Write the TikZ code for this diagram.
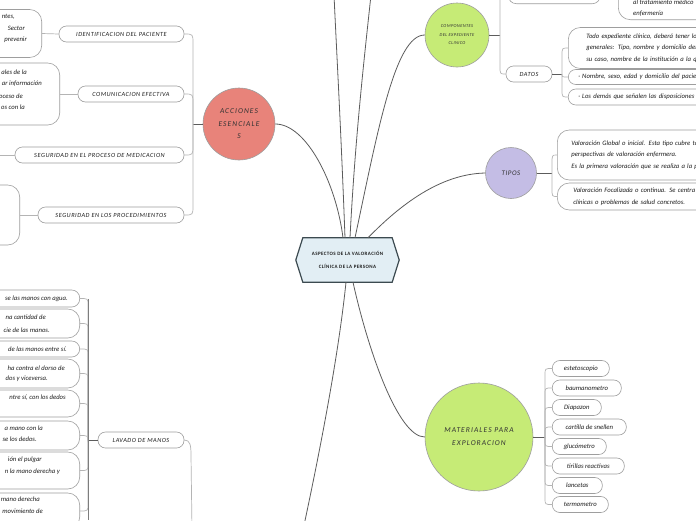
\documentclass[tikz,border=0pt]{standalone}
\usepackage{fontspec}
\setmainfont{Carlito}
\newfontfamily\hand{Carlito}
\newfontfamily\handcaps[LetterSpace=8]{Carlito}
\newfontfamily\handwide[LetterSpace=14]{Carlito}
\usetikzlibrary{calc}
\definecolor{salmonc}{HTML}{E8837A}
\definecolor{limec}{HTML}{C6EB76}
\definecolor{lavc}{HTML}{C4BDE5}
\definecolor{ctrfill}{HTML}{E2EEF4}
\definecolor{ctrdraw}{HTML}{3C4A50}
\definecolor{pillc}{HTML}{9E9E9E}
\definecolor{mainln}{HTML}{5C5C5C}
\definecolor{subln}{HTML}{B4B4B4}
\definecolor{txtc}{HTML}{1E1E1E}
\definecolor{circtxt}{HTML}{333333}
\tikzset{
 circ/.style={circle, draw=pillc, line width=0.6pt, inner sep=0pt, align=center, text=circtxt},
 capbox/.style={draw=pillc, line width=0.6pt, rounded corners=7.5pt, fill=white, minimum height=16pt, inner sep=0pt, text=txtc, font=\handcaps\itshape\fontsize{6.3}{7}\selectfont},
 cutbox/.style={draw=pillc, line width=0.6pt, rounded corners=12pt, fill=white, inner sep=0pt},
 pill/.style={draw=pillc, line width=0.6pt, rounded corners=7.5pt, fill=white, minimum height=16pt, inner sep=0pt, anchor=west, text=txtc, font=\hand\itshape\fontsize{6.7}{7.5}\selectfont},
 rbox/.style={draw=pillc, line width=0.6pt, rounded corners=12pt, fill=white, inner ysep=0pt, anchor=west, text=txtc, align=left, font=\hand\itshape\fontsize{6.7}{11.5}\selectfont},
 lbl/.style={inner sep=0pt, anchor=east, text=txtc, font=\hand\itshape\fontsize{6.7}{7.5}\selectfont},
 mainconn/.style={draw=mainln, line width=0.8pt},
 stemconn/.style={draw=mainln, line width=1pt},
 subconn/.style={draw=subln, line width=0.7pt},
}
\begin{document}
\begin{tikzpicture}[x=1pt,y=-1pt]
\useasboundingbox (0,0) rectangle (696,520);
\clip (0,0) rectangle (696,520);
\fill[white] (0,0) rectangle (696,520);

% ---------- central node ----------
\node[minimum width=103pt, minimum height=44pt, inner sep=0pt] (ctr) at (347.5,260) {};
\draw[draw=ctrdraw, fill=ctrfill, line width=1.2pt] (ctr.west) -- ($(ctr.north west)+(7,0)$) -- ($(ctr.north east)+(-7,0)$) -- (ctr.east) -- ($(ctr.south east)+(-7,0)$) -- ($(ctr.south west)+(7,0)$) -- cycle;
\node[align=center, inner sep=0pt, text=txtc, font=\handcaps\bfseries\fontsize{5}{13.5}\selectfont] (ctrtext) at (ctr.center) {ASPECTOS DE LA VALORACIÓN\\CLÍNICA DE LA PERSONA};

% ---------- main circles ----------
\node[circ, fill=salmonc, minimum size=72pt, font=\handwide\itshape\fontsize{7.5}{12.5}\selectfont] (acc) at (239,124) {ACCIONES\\ESENCIALE\\S};
\node[circ, fill=limec, minimum size=64pt, font=\handcaps\itshape\fontsize{4.5}{8.5}\selectfont] (comp) at (457,35) {COMPONENTES\\DEL EXPEDIENTE\\CLINICO};
\node[circ, fill=lavc, minimum size=51pt, font=\handcaps\itshape\fontsize{7}{8}\selectfont] (tipos) at (511,173) {TIPOS};
\node[circ, fill=limec, minimum size=108pt, font=\handwide\itshape\fontsize{7.5}{13}\selectfont] (mat) at (479,437) {MATERIALES PARA\\EXPLORACION};

% ---------- main connectors ----------
\coordinate (upL) at (334,-5);
\coordinate (upR) at (371,-5);
\coordinate (downL) at (303,530);
\draw[mainconn] ($(ctr.north)+(-4.5,0)$) .. controls (336,182) and (306,124) .. (acc.east);
\draw[mainconn] ($(ctr.north)+(-2.5,0)$) .. controls (341,130) and (337,60) .. (upL);
\draw[mainconn] ($(ctr.north)+(2.5,0)$) .. controls (355,140) and (364,60) .. (upR);
\draw[mainconn] ($(ctr.north)+(7.5,0)$) .. controls (378,130) and (395,35) .. (comp.west);
\draw[mainconn] ($(ctr.north)+(20.5,0)$) .. controls (400,205) and (440,174) .. (tipos.west);
\draw[mainconn] ($(ctr.south)+(5.5,0)$) .. controls (368,350) and (398,437) .. (mat.west);
\draw[mainconn] ($(ctr.south)+(-1.5,0)$) .. controls (338,360) and (318,460) .. (downL);

% ---------- ACCIONES ESENCIALES branch ----------
\node[capbox, minimum width=125pt] (ident) at (121.5,34) {IDENTIFICACION DEL PACIENTE};
\node[capbox, minimum width=106pt] (comu) at (131,94) {COMUNICACION EFECTIVA};
\node[capbox, minimum width=169pt] (medi) at (99.5,155) {SEGURIDAD EN EL PROCESO DE MEDICACION};
\node[capbox, minimum width=146pt] (proc) at (111,215) {SEGURIDAD EN LOS PROCEDIMIENTOS};
\coordinate (accstem) at (193,124);
\draw[stemconn] (acc.west) -- (accstem);
\draw[subconn] (accstem) -- (193,44) .. controls (193,34) .. (ident.east);
\draw[subconn] (accstem) -- (193,104) .. controls (193,94) .. (comu.east);
\draw[subconn] (accstem) -- (193,145) .. controls (193,155) .. (medi.east);
\draw[subconn] (accstem) -- (193,205) .. controls (193,215) .. (proc.east);

\node[cutbox, minimum width=150pt, minimum height=48pt, anchor=east] (identc) at (42,33.5) {};
\node[cutbox, minimum width=150pt, minimum height=62pt, anchor=east] (comuc) at (60,94) {};
\node[cutbox, minimum width=150pt, minimum height=60pt, anchor=east] (procc) at (20,215) {};
\coordinate (medic) at (-5,155);
\draw[subconn] (identc.east) -- (ident.west);
\draw[subconn] (comuc.east) -- (comu.west);
\draw[subconn] (medic) -- (medi.west);
\draw[subconn] (procc.east) -- (proc.west);
\node[lbl] (ia) at (15,16.5) {ntes,};
\node[lbl] (ib) at (25,28.5) {Sector};
\node[lbl] (ic) at (27,40) {prevenir};
\node[lbl] (ca) at (27,72) {ales de la};
\node[lbl] (cb) at (42,84) {ar información};
\node[lbl] (cc) at (23,96) {roceso de};
\node[lbl] (cd) at (25,107.5) {os con la};

% ---------- LAVADO DE MANOS branch ----------
\node[capbox, minimum width=86pt] (lav) at (141,440) {LAVADO DE MANOS};
\coordinate (lavp) at (192,530);
\coordinate (lavstem) at (88,440);
\draw[subconn] (lav.east) .. controls (190,440) and (191,445) .. (191,455) -- (lavp);
\draw[stemconn] (lav.west) -- (lavstem);

\node[cutbox, rounded corners=8pt, minimum width=170pt, minimum height=17pt, anchor=east] (l1) at (80,298.5) {};
\node[cutbox, minimum width=170pt, minimum height=29pt, anchor=east] (l2) at (80,323.5) {};
\node[cutbox, rounded corners=8pt, minimum width=170pt, minimum height=16pt, anchor=east] (l3) at (80,349) {};
\node[cutbox, minimum width=170pt, minimum height=29pt, anchor=east] (l4) at (80,373.5) {};
\node[cutbox, minimum width=170pt, minimum height=27pt, anchor=east] (l5) at (80,403.5) {};
\node[cutbox, minimum width=170pt, minimum height=29pt, anchor=east] (l6) at (80,435.5) {};
\node[cutbox, minimum width=170pt, minimum height=37pt, anchor=east] (l7) at (80,470.5) {};
\node[cutbox, minimum width=170pt, minimum height=36pt, anchor=east] (l8) at (80,511) {};
\draw[subconn] (lavstem) -- (88,305) .. controls (88,298.5) .. (l1.east);
\draw[subconn] (lavstem) -- (88,330) .. controls (88,323.5) .. (l2.east);
\draw[subconn] (lavstem) -- (88,355) .. controls (88,349) .. (l3.east);
\draw[subconn] (lavstem) -- (88,380) .. controls (88,373.5) .. (l4.east);
\draw[subconn] (lavstem) -- (88,410) .. controls (88,403.5) .. (l5.east);
\draw[subconn] (lavstem) -- (88,442) .. controls (88,435.5) .. (l6.east);
\draw[subconn] (lavstem) -- (88,464) .. controls (88,470.5) .. (l7.east);
\draw[subconn] (lavstem) -- (88,504) .. controls (88,511) .. (l8.east);
\draw[stemconn, draw=mainln!80] (88,299) -- (88,520);

\node[lbl] (la) at (68,298.5) {se las manos con agua.};
\node[lbl] (lb1) at (46,317) {na cantidad de};
\node[lbl] (lb2) at (50,330) {cie de las manos.};
\node[lbl] (lc) at (67,349) {de las manos entre sí.};
\node[lbl] (ld1) at (65,368) {ha contra el dorso de};
\node[lbl] (ld2) at (48,379) {dos y viceversa.};
\node[lbl] (le) at (66,398) {ntre sí, con los dedos};
\node[lbl] (lf1) at (43,428) {a mano con la};
\node[lbl] (lf2) at (37,439.5) {se los dedos.};
\node[lbl] (lg1) at (42,460) {ión el pulgar};
\node[lbl] (lg2) at (60,472) {n la mano derecha y};
\node[lbl] (lh1) at (40,499.5) {mano derecha};
\node[lbl] (lh2) at (43,511.5) {movimiento de};

% ---------- COMPONENTES branch ----------
\coordinate (compstem) at (500,35);
\draw[stemconn] (comp.east) -- (compstem);
\node[cutbox, rounded corners=8pt, minimum width=92pt, minimum height=30pt, anchor=south west] (topbox) at (508,4) {};
\node[cutbox, minimum width=120pt, minimum height=50pt, anchor=south west] (trbox) at (618,20) {};
\node[lbl, anchor=west] (tra) at (633,2.5) {al tratamiento médico};
\node[lbl, anchor=west] (trb) at (633,13.5) {enfermería};
\node[capbox, minimum width=46pt] (datos) at (529,74) {DATOS};
\draw[subconn] (compstem) -- (500,2) .. controls (500,-11) .. (topbox.west);
\draw[subconn] (compstem) -- (500,66) .. controls (500,74) .. (datos.west);

\node[rbox, minimum width=220pt, minimum height=41pt, inner xsep=18pt, text width=200pt] (d1) at (568,48) {Todo expediente clínico, deberá tener los siguientes datos\\generales: Tipo, nombre y domicilio del establecimiento y en\\su caso, nombre de la institución a la que pertenece};
\node[pill, minimum width=220pt, inner xsep=9pt, minimum height=15pt, align=left, text width=200pt] (d2) at (568,77) {· Nombre, sexo, edad y domicilio del paciente};
\node[pill, minimum width=220pt, inner xsep=9pt, align=left, text width=200pt] (d3) at (568,97) {· Los demás que señalen las disposiciones sanitarias};
\coordinate (datstem) at (562,74);
\draw[stemconn] (datos.east) -- (datstem);
\draw[subconn] (datstem) -- (562,56) .. controls (562,48) .. (d1.west);
\draw[subconn] (datstem) .. controls (562,77) .. (d2.west);
\draw[subconn] (datstem) -- (562,89) .. controls (562,97) .. (d3.west);

% ---------- TIPOS branch ----------
\node[rbox, minimum width=220pt, minimum height=50pt, inner xsep=14pt, text width=200pt] (t1) at (557,155) {Valoración Global o inicial. Esta tipo cubre todas las\\perspectivas de valoración enfermera.\\Es la primera valoración que se realiza a la persona};
\node[rbox, minimum width=220pt, minimum height=27pt, inner xsep=16pt, text width=200pt] (t2) at (557,196.5) {Valoración Focalizada o continua. Se centra en situaciones\\clínicas o problemas de salud concretos.};
\coordinate (tipstem) at (552,173);
\draw[stemconn] (tipos.east) -- (tipstem);
\draw[subconn] (tipstem) -- (552,164) .. controls (552,155) .. (t1.west);
\draw[subconn] (tipstem) -- (552,188) .. controls (552,196.5) .. (t2.west);

% ---------- MATERIALES branch ----------
\node[pill, minimum width=57pt] (m1) at (552,368.5) {estetoscopio};
\node[pill, minimum width=69pt] (m2) at (552,388) {baumanometro};
\node[pill, minimum width=49pt] (m3) at (552,407.5) {Diapazon};
\node[pill, minimum width=74pt] (m4) at (552,427) {cartilla de snellen};
\node[pill, minimum width=54pt] (m5) at (552,446.5) {glucómetro};
\node[pill, minimum width=72pt] (m6) at (552,466) {tirillas reactivas};
\node[pill, minimum width=50pt] (m7) at (552,485.5) {lancetas};
\node[pill, minimum width=56pt] (m8) at (552,504.5) {termometro};
\coordinate (matstem) at (545,437);
\draw[stemconn] (mat.east) -- (matstem);
\draw[subconn] (matstem) -- (545,375) .. controls (545,368.5) .. (m1.west);
\draw[subconn] (matstem) -- (545,394) .. controls (545,388) .. (m2.west);
\draw[subconn] (matstem) -- (545,414) .. controls (545,407.5) .. (m3.west);
\draw[subconn] (matstem) -- (545,433) .. controls (545,427) .. (m4.west);
\draw[subconn] (matstem) -- (545,440) .. controls (545,446.5) .. (m5.west);
\draw[subconn] (matstem) -- (545,460) .. controls (545,466) .. (m6.west);
\draw[subconn] (matstem) -- (545,479) .. controls (545,485.5) .. (m7.west);
\draw[subconn] (matstem) -- (545,498) .. controls (545,504.5) .. (m8.west);
\end{tikzpicture}
\end{document}
